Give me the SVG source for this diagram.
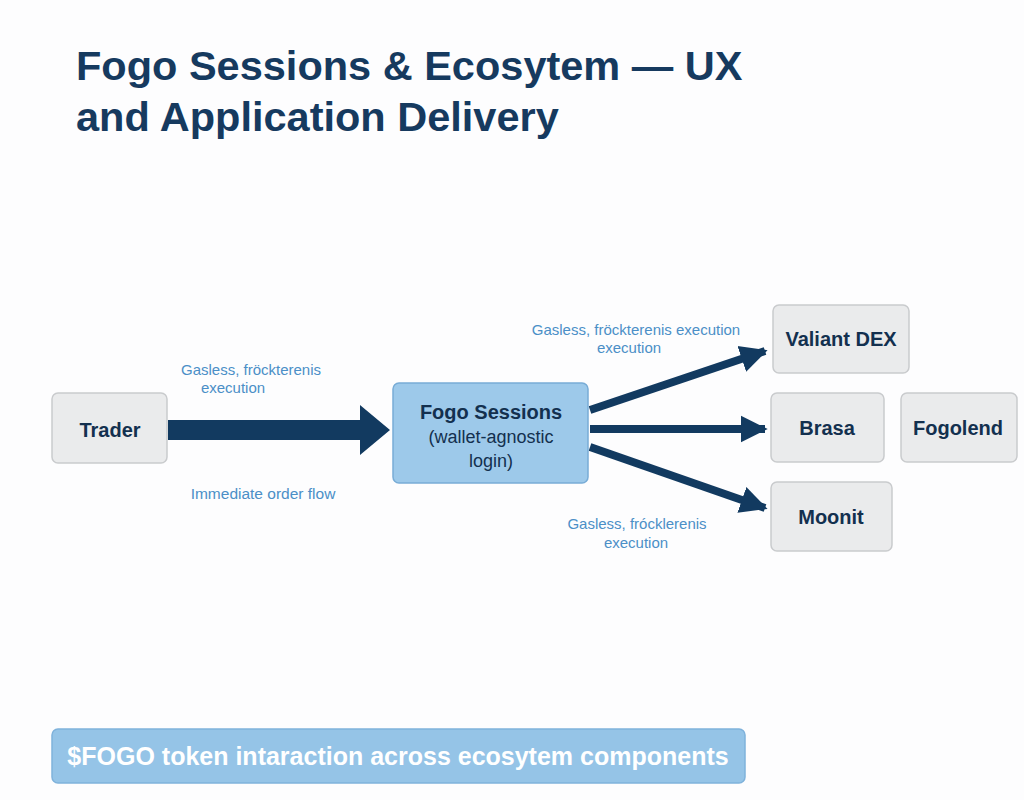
<svg xmlns="http://www.w3.org/2000/svg" width="1024" height="800" viewBox="0 0 1024 800">
<defs>
<style>
.title{font-family:"Liberation Sans",Arial,sans-serif;font-weight:bold;font-size:41.5px;fill:#163a5f}
.box{fill:#eaebec;stroke:#c9cbcd;stroke-width:1.5}
.lbl{font-family:"Liberation Sans",Arial,sans-serif;font-weight:bold;font-size:20px;fill:#13304f;text-anchor:middle}
.note{font-family:"Liberation Sans",Arial,sans-serif;font-size:15px;fill:#4b8fc7;text-anchor:middle}
.arr{stroke:#123a60;stroke-width:8;fill:none}
</style>
<marker id="ah" viewBox="0 0 10 10" refX="9" refY="5" markerWidth="3.4" markerHeight="3.6" orient="auto" markerUnits="strokeWidth">
<path d="M0,0 L10,5 L0,10 Z" fill="#123a60"/>
</marker>
</defs>
<rect width="1024" height="800" fill="#fdfdfe"/>
<text class="title" x="76" y="80">Fogo Sessions &amp; Ecosytem — UX</text>
<text class="title" x="76" y="131">and Application Delivery</text>

<g id="connectors">
<path d="M168,420 L360,420 L360,405 L390,430 L360,455 L360,440 L168,440 Z" fill="#123a60"/>
<line class="arr" x1="590" y1="410" x2="765" y2="351" marker-end="url(#ah)"/>
<line class="arr" x1="590" y1="429" x2="765" y2="429" marker-end="url(#ah)"/>
<line class="arr" x1="590" y1="447" x2="765" y2="508" marker-end="url(#ah)"/>
<text class="note" x="251" y="375">Gasless, fröckterenis</text>
<text class="note" x="233" y="393">execution</text>
<text class="note" x="263" y="499" style="font-size:15.5px">Immediate order flow</text>
<text class="note" x="636" y="335">Gasless, fröckterenis execution</text>
<text class="note" x="629" y="353">execution</text>
<text class="note" x="637" y="529">Gasless, frócklerenis</text>
<text class="note" x="636" y="548">execution</text>
</g>

<g id="trader">
<rect class="box" x="52" y="393" width="115" height="70" rx="6"/>
<text class="lbl" x="110" y="437">Trader</text>
</g>
<g id="fogo-sessions">
<rect x="393" y="383" width="195" height="100" rx="6" fill="#9dc9ea" stroke="#78acd6" stroke-width="1.5"/>
<text class="lbl" x="491" y="419">Fogo Sessions</text>
<text class="lbl" x="491" y="443" style="font-weight:normal;font-size:18px">(wallet-agnostic</text>
<text class="lbl" x="491" y="467" style="font-weight:normal;font-size:18px">login)</text>
</g>
<g id="valiant-dex">
<rect class="box" x="773" y="305" width="136" height="68" rx="6"/>
<text class="lbl" x="841" y="346">Valiant DEX</text>
</g>
<g id="brasa">
<rect class="box" x="771" y="393" width="113" height="69" rx="6"/>
<text class="lbl" x="827" y="435">Brasa</text>
</g>
<g id="fogolend">
<rect class="box" x="901" y="393" width="116" height="69" rx="6"/>
<text class="lbl" x="958" y="435">Fogolend</text>
</g>
<g id="moonit">
<rect class="box" x="771" y="482" width="121" height="69" rx="6"/>
<text class="lbl" x="831" y="524">Moonit</text>
</g>
<g id="token-bar">
<rect x="52" y="729" width="693" height="54" rx="6" fill="#95c4e7" stroke="#7fb2db" stroke-width="1.5"/>
<text class="lbl" x="398" y="765" style="fill:#ffffff;font-size:25px">$FOGO token intaraction across ecosytem components</text>
</g>
</svg>
